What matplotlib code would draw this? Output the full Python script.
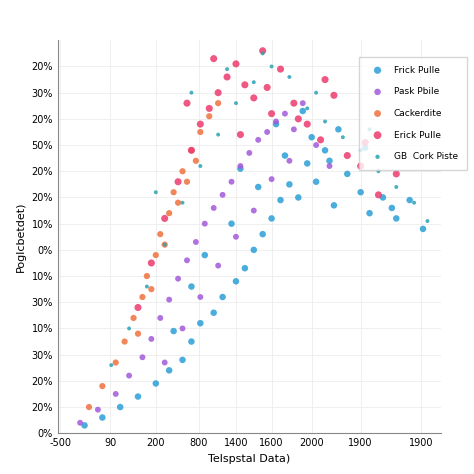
import matplotlib
matplotlib.use("Agg")
import matplotlib.pyplot as plt

x_labels = ["-500", "90", "200", "800", "1400", "1600", "2000", "1900", "1900"]
x_tick_pos = [0.05, 1.18, 2.2, 3.17, 4.0, 4.8, 5.7, 6.8, 8.15]
y_labels = ["0%", "20%", "20%", "30%", "10%", "30%", "10%", "0%", "10%", "20%", "20%", "50%", "20%", "30%", "20%"]
series_names = ["Frick Pulle", "Pask Pbile", "Cackerdite", "Erick Pulle", "GB  Cork Piste"]
colors = ["#2b9fd6", "#a259d9", "#f0713e", "#ec3b6c", "#2aa3b5"]

blue_x = [0.6,1.0,1.4,1.8,2.2,2.5,2.8,3.0,3.2,3.5,3.7,4.0,4.2,4.4,4.6,4.8,5.0,5.2,5.4,5.6,5.8,6.0,6.2,6.5,6.8,7.0,7.3,7.6,7.9,8.2,3.3,3.9,4.5,5.1,5.7,6.3,2.6,3.0,4.1,4.9,5.5,6.1,6.9,7.5]
blue_y = [0.3,0.6,1.0,1.4,1.9,2.4,2.8,3.5,4.2,4.6,5.2,5.8,6.3,7.0,7.6,8.2,8.9,9.5,9.0,10.3,9.6,10.8,8.7,9.9,9.2,8.4,9.0,8.2,8.9,7.8,6.8,8.0,9.4,10.6,11.3,11.6,3.9,5.6,10.1,11.8,12.3,10.4,10.9,8.6]
purple_x = [0.5,0.9,1.3,1.6,1.9,2.1,2.3,2.5,2.7,2.9,3.1,3.3,3.5,3.7,3.9,4.1,4.3,4.5,4.7,4.9,5.1,5.3,5.5,5.8,6.1,2.4,2.8,3.2,3.6,4.0,4.4,4.8,5.2]
purple_y = [0.4,0.9,1.5,2.2,2.9,3.6,4.4,5.1,5.9,6.6,7.3,8.0,8.6,9.1,9.6,10.2,10.7,11.2,11.5,11.9,12.2,11.6,12.6,11.0,10.2,2.7,4.0,5.2,6.4,7.5,8.5,9.7,10.4]
orange_x = [0.7,1.0,1.3,1.5,1.7,1.9,2.0,2.2,2.3,2.5,2.6,2.8,3.0,3.2,3.4,3.6,1.8,2.1,2.4,2.7,2.9,3.1]
orange_y = [1.0,1.8,2.7,3.5,4.4,5.2,6.0,6.8,7.6,8.4,9.2,10.0,10.8,11.5,12.1,12.6,3.8,5.5,7.2,8.8,9.6,10.4]
pink_x = [1.8,2.1,2.4,2.7,3.0,3.2,3.4,3.6,3.8,4.0,4.2,4.4,4.6,4.8,5.0,5.3,5.6,5.9,6.2,6.5,6.8,7.2,2.9,3.5,4.1,4.7,5.4,6.0,6.9,7.6]
pink_y = [4.8,6.5,8.2,9.6,10.8,11.8,12.4,13.0,13.6,14.1,13.3,12.8,14.6,12.2,13.9,12.6,11.8,11.2,12.9,10.6,10.2,9.1,12.6,14.3,11.4,13.2,12.0,13.5,11.1,9.9]
teal_x = [1.2,1.6,2.0,2.4,2.8,3.2,3.6,4.0,4.4,4.8,5.2,5.6,6.0,6.4,6.8,7.2,7.6,8.0,8.3,3.0,4.6,5.8,7.0,2.2,3.8]
teal_y = [2.6,4.0,5.6,7.2,8.8,10.2,11.4,12.6,13.4,14.0,13.6,12.4,11.9,11.3,10.8,10.0,9.4,8.8,8.1,13.0,14.5,13.0,11.6,9.2,13.9]

plt.rcParams['font.family'] = ['DejaVu Sans']
fig, ax = plt.subplots(figsize=(4.74, 4.74), dpi=100)
fig.subplots_adjust(left=0.122, right=0.93, top=0.915, bottom=0.086)

data = [(blue_x, blue_y), (purple_x, purple_y), (orange_x, orange_y), (pink_x, pink_y), (teal_x, teal_y)]
sizes = [22, 18, 20, 26, 8]
for (xs, ys), c, s, n in zip(data, colors, sizes, series_names):
    ax.scatter(xs, ys, s=s, color=c, alpha=0.85, edgecolors="none", label=n, marker="o")

ax.set_xlim(0, 8.6)
ax.set_ylim(0, 15)
ax.set_xticks(x_tick_pos)
ax.set_xticklabels(x_labels, fontsize=7)
ax.set_yticks(range(len(y_labels)))
ax.set_yticklabels(y_labels, fontsize=7)
ax.grid(True, color="#ececec", linewidth=0.6)
ax.set_axisbelow(True)
for s in ["top", "right"]:
    ax.spines[s].set_visible(False)
ax.spines["left"].set_color("#888")
ax.spines["bottom"].set_color("#888")
ax.tick_params(length=0)
ax.set_xlabel("Telspstal Data)", fontsize=8)
ax.set_ylabel("Poglcbetdet)", fontsize=8)
leg = ax.legend(loc="upper right", bbox_to_anchor=(1.08, 0.97), fontsize=6.5, frameon=True,
                edgecolor="#ccc", fancybox=False, markerscale=1.1, labelspacing=1.4, borderpad=1.0)
fig.savefig("out.png", dpi=100)
